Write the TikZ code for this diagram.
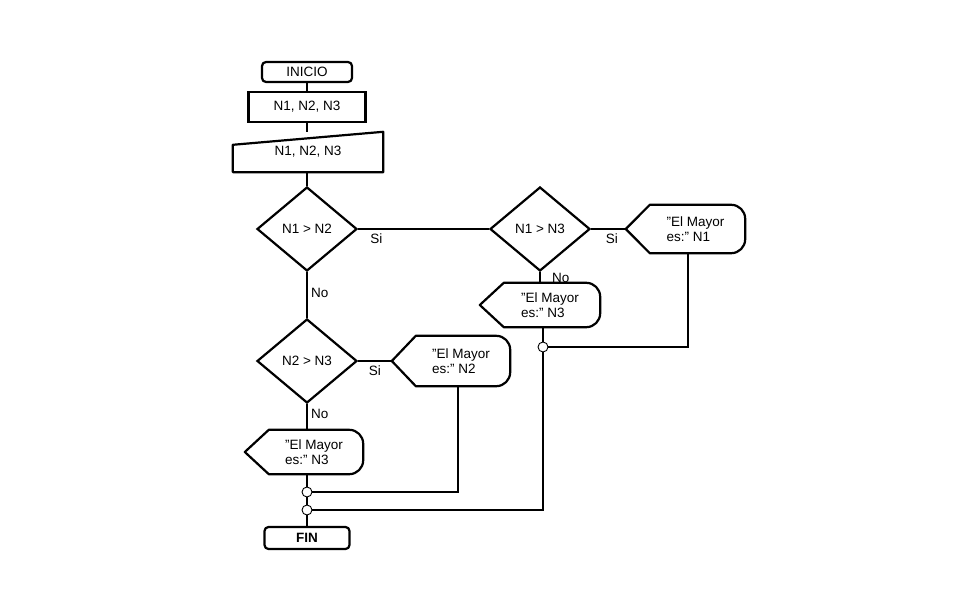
\documentclass[tikz,border=0pt]{standalone}
\usepackage{fontspec}
\setmainfont{Liberation Sans}
\usetikzlibrary{shapes.geometric}
\begin{document}
\begin{tikzpicture}[x=1pt,y=-1pt,
  txt/.style={font=\fontsize{13.5}{15}\selectfont, align=left},
  box/.style={draw, line width=2.2pt, inner sep=0pt, txt},
  dec/.style={draw, diamond, line width=2.2pt, minimum width=100pt, minimum height=84pt, inner sep=0pt, txt},
  disp/.style={inner sep=0pt, txt},
  outl/.style={line width=2.2pt, line join=round},
  con/.style={line width=1.8pt},
  lab/.style={font=\fontsize{13.5}{15}\selectfont},
  junc/.style={circle, draw, fill=white, line width=0.9pt, minimum size=10pt, inner sep=0pt}]
\useasboundingbox (0,0) rectangle (956,604);
\newcommand{\dispoutline}[1]{%
  \draw[outl] (#1.west) -- ([xshift=24pt]#1.north west) [rounded corners=14pt] -- (#1.north east) -- (#1.south east) [sharp corners] -- ([xshift=24pt]#1.south west) -- cycle;}
% nodes
\node[box, rounded corners=4pt, minimum width=90pt, minimum height=20pt] (ini) at (307,72) {INICIO};
\node[box, minimum width=117pt, minimum height=30pt] (proc) at (307,107) {N1, N2, N3};
\node[inner sep=0pt, minimum width=150pt, minimum height=40pt, txt] (inp) at (308,152) {\raisebox{-5pt}{N1, N2, N3}};
\draw[outl] ([yshift=-13pt]inp.north west) -- (inp.north east) -- (inp.south east) -- (inp.south west) -- cycle;
\node[dec] (d1) at (307,229) {N1 > N2};
\node[dec] (d2) at (540,229) {N1 > N3};
\node[dec] (d3) at (307,361) {N2 > N3};
\node[disp, minimum width=119pt, minimum height=48pt] (o1) at (685.5,229) {\hspace*{20pt}"El Mayor\\\hspace*{20pt}es:" N1};
\node[disp, minimum width=120pt, minimum height=44pt] (o3a) at (540,305) {\hspace*{20pt}"El Mayor\\\hspace*{20pt}es:" N3};
\node[disp, minimum width=118pt, minimum height=50pt] (o2) at (451,361) {\hspace*{20pt}"El Mayor\\\hspace*{20pt}es:" N2};
\node[disp, minimum width=118pt, minimum height=44pt] (o3b) at (304,452) {\hspace*{20pt}"El Mayor\\\hspace*{20pt}es:" N3};
\dispoutline{o1}\dispoutline{o3a}\dispoutline{o2}\dispoutline{o3b}
\node[box, rounded corners=4pt, minimum width=85pt, minimum height=22pt] (fin) at (307,538) {\textbf{FIN}};
\coordinate (c1) at (688,347);
\coordinate (c2) at (458,492);
\node[junc] (j1) at (543,347) {};
\node[junc] (j2) at (307,492) {};
\node[junc] (j3) at (307,510) {};
\coordinate (c3) at (543,510);
% connectors
\draw[con] (ini) -- (proc);
\draw[con] (proc.south) -- (proc.south |- inp.north);
\draw[con] (inp.south -| d1) -- (d1.north);
\draw[con] (d1.east) -- (d2.west) node[lab, pos=0.14, below] {Si};
\draw[con] (d2.east) -- (o1.west) node[lab, pos=0.6, below] {Si};
\draw[con] (d2.south) -- (o3a.north) node[lab, right, pos=0.5, xshift=8pt] {No};
\draw[con] (d1.south) -- (d3.north) node[lab, pos=0.45, right] {No};
\draw[con] (d3.east) -- (o2.west) node[lab, pos=0.5, below] {Si};
\draw[con] (d3.south) -- (d3.south |- o3b.north) node[lab, pos=0.4, right] {No};
\draw[con] (o1.south -| c1) -- (c1) -- (j1);
\draw[con] (o3a.south -| j1) -- (j1);
\draw[con] (j1) -- (c3) -- (j3);
\draw[con] (o2.south -| c2) -- (c2) -- (j2);
\draw[con] (o3b.south -| j2) -- (j2);
\draw[con] (j2) -- (j3);
\draw[con] (j3) -- (fin);
\end{tikzpicture}
\end{document}
